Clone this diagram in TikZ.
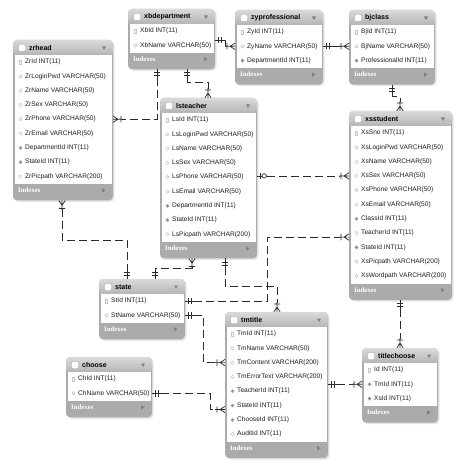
\documentclass[tikz,border=0pt]{standalone}
\usepackage{fontspec}
\setmainfont{Liberation Sans}
\newfontfamily\IdxFace{Liberation Serif}
\usetikzlibrary{arrows.meta,calc,positioning,shadows}

\definecolor{erFrame}{HTML}{ABABAB}
\definecolor{erHeadTop}{HTML}{DADADA}
\definecolor{erHeadBot}{HTML}{B2B2B2}
\definecolor{erInk}{HTML}{1E1E1E}
\definecolor{erLine}{HTML}{2A2A2A}
\definecolor{erIcon}{HTML}{8A8A8A}
\newcommand{\RowFont}{\fontsize{6.6}{7.5}\selectfont}
\newcommand{\HeadFont}{\fontsize{7}{8}\selectfont\bfseries}
\newcommand{\IdxFont}{\IdxFace\fontsize{6.8}{8}\selectfont\bfseries}

% relationship ends
\pgfdeclarearrow{
  name=ER many,
  setup code={
    \pgfarrowssettipend{0pt}
    \pgfarrowssetlineend{-9pt}
    \pgfarrowssetbackend{-10pt}
    \pgfarrowshullpoint{0pt}{3.5pt}
    \pgfarrowshullpoint{0pt}{-3.5pt}
    \pgfarrowshullpoint{-10pt}{0pt}
  },
  drawing code={
    \pgfsetdash{}{0pt}
    \pgfpathmoveto{\pgfqpoint{0pt}{3.2pt}}
    \pgfpathlineto{\pgfqpoint{-5pt}{0pt}}
    \pgfpathlineto{\pgfqpoint{0pt}{-3.2pt}}
    \pgfpathmoveto{\pgfqpoint{0pt}{0pt}}
    \pgfpathlineto{\pgfqpoint{-10pt}{0pt}}
    \pgfpathmoveto{\pgfqpoint{-8pt}{3.2pt}}
    \pgfpathlineto{\pgfqpoint{-8pt}{-3.2pt}}
    \pgfusepathqstroke
  }
}
\pgfdeclarearrow{
  name=ER one,
  setup code={
    \pgfarrowssettipend{0pt}
    \pgfarrowssetlineend{-9pt}
    \pgfarrowssetbackend{-10pt}
    \pgfarrowshullpoint{0pt}{3.5pt}
    \pgfarrowshullpoint{-10pt}{-3.5pt}
  },
  drawing code={
    \pgfsetdash{}{0pt}
    \pgfpathmoveto{\pgfqpoint{0pt}{0pt}}
    \pgfpathlineto{\pgfqpoint{-10pt}{0pt}}
    \pgfpathmoveto{\pgfqpoint{-3.5pt}{3.2pt}}
    \pgfpathlineto{\pgfqpoint{-3.5pt}{-3.2pt}}
    \pgfpathmoveto{\pgfqpoint{-6.5pt}{3.2pt}}
    \pgfpathlineto{\pgfqpoint{-6.5pt}{-3.2pt}}
    \pgfusepathqstroke
  }
}
\pgfdeclarearrow{
  name=ER zeroone,
  setup code={
    \pgfarrowssettipend{0pt}
    \pgfarrowssetlineend{-10pt}
    \pgfarrowssetbackend{-11pt}
    \pgfarrowshullpoint{0pt}{3.5pt}
    \pgfarrowshullpoint{-11pt}{-3.5pt}
  },
  drawing code={
    \pgfsetdash{}{0pt}
    \pgfpathmoveto{\pgfqpoint{0pt}{0pt}}
    \pgfpathlineto{\pgfqpoint{-11pt}{0pt}}
    \pgfpathmoveto{\pgfqpoint{-3pt}{3.2pt}}
    \pgfpathlineto{\pgfqpoint{-3pt}{-3.2pt}}
    \pgfusepathqstroke
    \pgfpathcircle{\pgfqpoint{-7.2pt}{0pt}}{2.2pt}
    \pgfsetfillcolor{white}
    \pgfusepathqfillstroke
  }
}

\tikzset{
  tablebox/.style={fill=erFrame, rounded corners=4pt, inner sep=0pt, outer sep=0pt,
    drop shadow={shadow xshift=1.5pt, shadow yshift=-1.5pt, fill=black!20}},
  rowtext/.style={font=\RowFont, text=erInk, inner sep=0pt, anchor=west},
  headtext/.style={font=\HeadFont, text=black, inner sep=0pt, anchor=west},
  idxtext/.style={font=\IdxFont, text=white, inner sep=0pt, anchor=west},
  headicon/.style={draw=gray!70, fill=white, rounded corners=1pt, minimum size=7pt, inner sep=0pt},
  ico-k/.style={draw=gray!45, fill=yellow!12, minimum width=1.8pt, minimum height=4.5pt, inner sep=0pt},
  ico-f/.style={circle, fill=erIcon, draw=gray!60, minimum size=3.4pt, inner sep=0pt},
  ico-c/.style={circle, fill=white, draw=gray!55, minimum size=3.4pt, inner sep=0pt},
  rel/.style={draw=erLine, line width=0.7pt, dash pattern=on 8pt off 4pt},
}

% name, left, top, width, rows, title, icon/row list
\newcommand{\ErTable}[7]{%
  \pgfmathsetmacro{\tabH}{46+(#5-1)*14.3}
  \pgfmathsetmacro{\bodyB}{29.5+(#5-1)*14.3}
  \pgfmathsetmacro{\idxY}{36+(#5-1)*14.3}
  \node[tablebox, minimum width=#4pt, minimum height=\tabH pt, anchor=north west] (#1) at (#2,#3) {};
  \shade[top color=erHeadTop, bottom color=erHeadBot, rounded corners=4pt]
    (#1.north west) rectangle ([yshift=-16pt]#1.north east);
  \fill[white] ([xshift=1.5pt,yshift=-15pt]#1.north west) rectangle ([xshift=-1.5pt,yshift=-\bodyB pt]#1.north east);
  \node[headicon] (#1-icon) at ([xshift=9pt,yshift=-8pt]#1.north west) {};
  \node[headtext] (#1-title) at ([xshift=16pt,yshift=-8pt]#1.north west) {#6};
  \fill[black!50] ([xshift=-11pt,yshift=-6.5pt]#1.north east) -- ++(4pt,0pt) -- ++(-2pt,-3.5pt) -- cycle;
  \foreach \ico/\txt [count=\rn] in {#7} {
    \pgfmathsetmacro{\rowY}{22+(\rn-1)*14.3}
    \node[ico-\ico] (#1-\rn-ico) at ([xshift=7.5pt,yshift=-\rowY pt]#1.north west) {};
    \node[rowtext] (#1-\rn) at ([xshift=12pt,yshift=-\rowY pt]#1.north west) {\txt};
  }
  \node[idxtext] (#1-idx) at ([xshift=5pt,yshift=-\idxY pt]#1.north west) {Indexes};
  \fill[black!50] ([xshift=-11pt,yshift=-\idxY pt]#1.north east) ++(0pt,2.2pt) -- ++(0pt,-4.4pt) -- ++(3.6pt,2.2pt) -- cycle;
}

\begin{document}
\begin{tikzpicture}[x=1pt,y=-1pt]
  \useasboundingbox (0,0) rectangle (474,476);
  \fill[white] (0,0) rectangle (474,476);

  % xbdepartment
  \ErTable{xbdepartment}{128}{9}{87}{2}{xbdepartment}{%
    k/XbId INT(11),%
    c/XbName VARCHAR(50)%
  }
  % zyprofessional
  \ErTable{zyprofessional}{235}{10}{88}{3}{zyprofessional}{%
    k/ZyId INT(11),%
    c/ZyName VARCHAR(50),%
    f/DepartmentId INT(11)%
  }
  % bjclass
  \ErTable{bjclass}{349}{10}{86}{3}{bjclass}{%
    k/BjId INT(11),%
    c/BjName VARCHAR(50),%
    f/ProfessionalId INT(11)%
  }
  % zrhead
  \ErTable{zrhead}{13}{40}{100}{9}{zrhead}{%
    k/ZrId INT(11),%
    c/ZrLoginPwd VARCHAR(50),%
    c/ZrName VARCHAR(50),%
    c/ZrSex VARCHAR(50),%
    c/ZrPhone VARCHAR(50),%
    c/ZrEmail VARCHAR(50),%
    f/DepartmentId INT(11),%
    f/StateId INT(11),%
    c/ZrPicpath VARCHAR(200)%
  }
  % lsteacher
  \ErTable{lsteacher}{160}{98}{97}{9}{lsteacher}{%
    k/LsId INT(11),%
    c/LsLoginPwd VARCHAR(50),%
    c/LsName VARCHAR(50),%
    c/LsSex VARCHAR(50),%
    c/LsPhone VARCHAR(50),%
    c/LsEmail VARCHAR(50),%
    f/DepartmentId INT(11),%
    f/StateId INT(11),%
    c/LsPicpath VARCHAR(200)%
  }
  % xsstudent
  \ErTable{xsstudent}{349}{111}{103}{11}{xsstudent}{%
    k/XsSno INT(11),%
    c/XsLoginPwd VARCHAR(50),%
    c/XsName VARCHAR(50),%
    c/XsSex VARCHAR(50),%
    c/XsPhone VARCHAR(50),%
    c/XsEmail VARCHAR(50),%
    f/ClassId INT(11),%
    c/TeacherId INT(11),%
    f/StateId INT(11),%
    c/XsPicpath VARCHAR(200),%
    c/XsWordpath VARCHAR(200)%
  }
  % state
  \ErTable{state}{99}{279}{86}{2}{state}{%
    k/StId INT(11),%
    c/StName VARCHAR(50)%
  }
  % choose
  \ErTable{choose}{66}{357}{86}{2}{choose}{%
    k/ChId INT(11),%
    c/ChName VARCHAR(50)%
  }
  % tmtitle
  \ErTable{tmtitle}{225}{312}{103}{8}{tmtitle}{%
    k/TmId INT(11),%
    c/TmName VARCHAR(50),%
    c/TmContent VARCHAR(200),%
    c/TmErrorText VARCHAR(200),%
    f/TeacherId INT(11),%
    f/StateId INT(11),%
    f/ChooseId INT(11),%
    c/AuditId INT(11)%
  }
  % titlechoose
  \ErTable{titlechoose}{362}{348}{76}{3}{titlechoose}{%
    k/Id INT(11),%
    f/TmId INT(11),%
    f/XsId INT(11)%
  }

  % relations
  \draw[rel, {ER one}-{ER many}] ([yshift=-31pt]xbdepartment.north east) -- ++(10,0) |- (zyprofessional.west |- zyprofessional-2);
  \draw[rel, {ER one}-{ER many}] (zyprofessional.east |- zyprofessional-2) -- (bjclass.west |- zyprofessional-2);
  \draw[rel, {ER one}-{ER many}] ([xshift=43pt]bjclass.south west) -- ++(0,12) -| ([xshift=51pt]xsstudent.north west);
  \draw[rel, {ER one}-{ER many}] ([xshift=59pt]xbdepartment.south west) -- ++(0,13) -| ([xshift=48pt]lsteacher.north west);
  \draw[rel, {ER one}-{ER many}] ([xshift=29pt]xbdepartment.south west) |- (zrhead.east |- zrhead-5);
  \draw[rel, {ER many}-{ER one}] ([xshift=49pt]zrhead.south west) -- ++(0,40) -| ([xshift=28pt]state.north west);
  \draw[rel, {ER many}-{ER one}] ([xshift=32pt]lsteacher.south west) -- ++(0,10) -| ([xshift=56pt]state.north west);
  \draw[rel, {ER one}-{ER many}] ([xshift=65pt]lsteacher.south west) -- ++(0,28) -| ([xshift=52pt]tmtitle.north west);
  \draw[rel, {ER one}-{ER many}] (state.east |- state-1) -- ++(82,0) |- ([yshift=-4pt]xsstudent.west |- xsstudent-8);
  \draw[rel, {ER zeroone}-{ER many}] (lsteacher.east |- xsstudent-4) -- (xsstudent.west |- xsstudent-4);
  \draw[rel, {ER one}-{ER many}] (state.east |- state-2) -- ++(18,0) |- (tmtitle.west |- tmtitle-3);
  \draw[rel, {ER one}-{ER many}] (choose.east |- choose-2) -- ++(58,0) |- ([yshift=-4pt]tmtitle.west |- tmtitle-6);
  \draw[rel, {ER one}-{ER many}] (tmtitle.east |- titlechoose-2) -- (titlechoose.west |- titlechoose-2);
  \draw[rel, {ER one}-{ER many}] ([xshift=51pt]xsstudent.south west) -- ([xshift=38pt]titlechoose.north west);
\end{tikzpicture}
\end{document}
